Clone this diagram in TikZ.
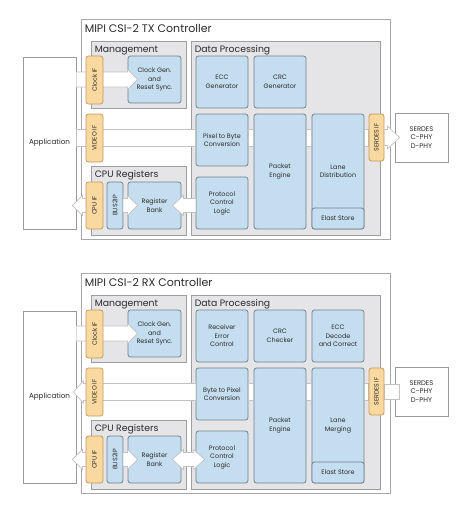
\documentclass[tikz,border=0pt]{standalone}
\usepackage{fontspec}
\setmainfont{Poppins}
\usetikzlibrary{positioning,calc}

\pgfdeclarelayer{background}
\pgfdeclarelayer{foreground}
\pgfsetlayers{background,main,foreground}

\definecolor{ctrlline}{HTML}{A8A8A8}
\definecolor{grpfill}{HTML}{E5E5E7}
\definecolor{grpline}{HTML}{9E9E9E}
\definecolor{blkfill}{HTML}{C4DDEF}
\definecolor{blkline}{HTML}{708190}
\definecolor{iffill}{HTML}{F9D99F}
\definecolor{ifline}{HTML}{C49A5A}
\definecolor{extline}{HTML}{9A9A9A}
\definecolor{bandline}{HTML}{C2C2C2}
\definecolor{txt}{HTML}{2A2A2A}

\tikzset{
  ctrl/.style={draw=ctrlline, fill=white, line width=0.8pt},
  ctrltitle/.style={anchor=north west, inner sep=0pt, text=txt, font=\fontsize{11}{13}\selectfont},
  grp/.style={draw=grpline, fill=grpfill, line width=0.8pt},
  grptitle/.style={anchor=north west, inner sep=0pt, text=txt, font=\fontsize{9.3}{11}\selectfont},
  blk/.style={draw=blkline, fill=blkfill, line width=0.8pt, rounded corners=2.5pt,
    align=center, text=txt, font=\fontsize{6.4}{8.5}\selectfont, inner sep=1pt},
  ifc/.style={draw=ifline, fill=iffill, line width=0.8pt, rounded corners=2.5pt,
    text=txt, font=\fontsize{6.2}{7}\selectfont, inner sep=0pt},
  ext/.style={draw=extline, fill=white, line width=0.8pt, align=center, text=txt,
    font=\fontsize{7.2}{9}\selectfont},
  band/.style={draw=bandline, fill=white, line width=0.7pt},
}

\begin{document}
\begin{tikzpicture}[x=1pt,y=-1pt,on grid,node distance=58pt]
\useasboundingbox (0,0) rectangle (474,506);

% ===== TX controller =====
\begin{pgfonlayer}{background}
  \node[ctrl, minimum width=309pt, minimum height=220pt] (tctrl) at (235.5,129) {};
  \node[ctrltitle] (tctrlt) at ([shift={(4,6)}]tctrl.north west) {MIPI CSI-2 TX Controller};
  \node[grp, minimum width=95pt, minimum height=67pt] (tmgmt) at (138.5,74.5) {};
  \node[grptitle] (tmgmtt) at ([shift={(4,5)}]tmgmt.north west) {Management};
  \node[grp, minimum width=95pt, minimum height=69pt] (tcpu) at (138.5,200.5) {};
  \node[grptitle] (tcput) at ([shift={(4,5)}]tcpu.north west) {CPU Registers};
  \node[grp, minimum width=189pt, minimum height=194pt] (tdp) at (285.5,138) {};
  \node[grptitle] (tdpt) at ([shift={(4,5)}]tdp.north west) {Data Processing};
\end{pgfonlayer}

\node[ext, minimum width=53pt, minimum height=172pt] (tapp) at (49.5,143) {Application};
\node[blk, minimum width=53pt, minimum height=47pt] (tcg) at (154.5,79.5) {Clock Gen.\\and\\Reset Sync.};
\node[blk, minimum width=53pt, minimum height=47pt, below=126pt of tcg] (trb) {Register\\Bank};
\node[blk, minimum width=16pt, minimum height=47pt, left=39.5pt of trb] (tbus) {\rotatebox{90}{BUS2IP}};

\node[blk, minimum width=52pt, minimum height=52pt] (tecc) at (222,82) {ECC\\Generator};
\node[blk, minimum width=52pt, minimum height=52pt, right=of tecc] (tcrc) {CRC\\Generator};
\node[blk, minimum width=52pt, minimum height=52pt, below=of tecc] (tptb) {Pixel to Byte\\Conversion};
\node[blk, minimum width=52pt, minimum height=52pt, below=63pt of tptb] (tpcl) {Protocol\\Control\\Logic};
\node[blk, minimum width=52pt, minimum height=115pt, below right=31.5pt and 58pt of tptb] (tpe) {Packet\\Engine};
\node[blk, minimum width=52pt, minimum height=115pt, right=of tpe] (tld) {Lane\\Distribution};
\node[blk, minimum width=52pt, minimum height=21pt, below=47pt of tld] (tes) {Elast Store};
\node[ext, minimum width=53pt, minimum height=49pt, font=\fontsize{6.8}{8.5}\selectfont] (tser) at (421.5,137.5) {SERDES\\C-PHY\\D-PHY};

\begin{pgfonlayer}{foreground}
  \node[ifc, minimum width=17pt, minimum height=48pt] (tcif) at (94.5,80) {\rotatebox{90}{Clock IF}};
  \node[ifc, minimum width=17pt, minimum height=48pt, below=of tcif] (tvif) {\rotatebox{90}{VIDEO IF}};
  \node[ifc, minimum width=17pt, minimum height=47pt, below=67.5pt of tvif] (tuif) {\rotatebox{90}{CPU IF}};
  \node[ifc, minimum width=15pt, minimum height=47pt] (tsif) at (376.5,137.5) {\rotatebox{90}{SERDES IF}};
\end{pgfonlayer}

% wide data paths
\draw[band] let \p1=(tapp.east), \p2=(tcg.west) in
  (\x1,\y2+7.5pt) -- (\x2,\y2+7.5pt) -- (\x2,\y2+10pt) -- (\x2+10pt,\y2)
  -- (\x2,\y2-10pt) -- (\x2,\y2-7.5pt) -- (\x1,\y2-7.5pt);
\draw[band] let \p1=(tapp.east), \p2=(tptb.west), \p3=(tvif.center) in
  (\x1,\y3+8.5pt) rectangle (\x2,\y3-8.5pt);
\draw[band] let \p1=(tptb.east), \p2=(tpe.west), \p3=(tvif.center) in
  (\x1,\y3+8.5pt) rectangle (\x2,\y3-8.5pt);
\draw[band] let \p1=(tpe.east), \p2=(tld.west), \p3=(tvif.center) in
  (\x1,\y3+8.5pt) rectangle (\x2,\y3-8.5pt);
\draw[band] let \p1=(tld.east), \p2=(tsif.west), \p3=(tvif.center) in
  (\x1,\y3+8.5pt) rectangle (\x2,\y3-8.5pt);
\draw[band] let \p1=(tsif.east), \p2=(tser.west) in
  (\x1,\y2+8pt) -- (\x1+3pt,\y2+8pt) -- (\x1+3pt,\y2+11.5pt) -- (\x2+5pt,\y2)
  -- (\x1+3pt,\y2-11.5pt) -- (\x1+3pt,\y2-8pt) -- (\x1,\y2-8pt);
\draw[band] let \p1=(tuif.west), \p2=(tapp.east), \p3=(tuif.center) in
  (\x1,\y3+7pt) -- (\x2+6pt,\y3+7pt) -- (\x2+6pt,\y3+10pt) -- (\x2-4pt,\y3)
  -- (\x2+6pt,\y3-10pt) -- (\x2+6pt,\y3-7pt) -- (\x1,\y3-7pt);
\draw[band] let \p1=(tbus.east), \p2=(trb.west) in
  (\x1,\y2+7pt) -- (\x2,\y2+7pt) -- (\x2,\y2+10pt) -- (\x2+10pt,\y2)
  -- (\x2,\y2-10pt) -- (\x2,\y2-7pt) -- (\x1,\y2-7pt);
\draw[band] let \p1=(tpcl.west), \p2=(trb.east) in
  (\x1,\y2+7pt) -- (\x2+2pt,\y2+7pt) -- (\x2+2pt,\y2+10pt) -- (\x2-9pt,\y2)
  -- (\x2+2pt,\y2-10pt) -- (\x2+2pt,\y2-7pt) -- (\x1,\y2-7pt);

% ===== RX controller =====
\begin{pgfonlayer}{background}
  \node[ctrl, minimum width=309pt, minimum height=220pt] (rctrl) at (235.5,383) {};
  \node[ctrltitle] (rctrlt) at ([shift={(4,6)}]rctrl.north west) {MIPI CSI-2 RX Controller};
  \node[grp, minimum width=95pt, minimum height=67pt] (rmgmt) at (138.5,328.5) {};
  \node[grptitle] (rmgmtt) at ([shift={(4,5)}]rmgmt.north west) {Management};
  \node[grp, minimum width=95pt, minimum height=69pt] (rcpu) at (138.5,454.5) {};
  \node[grptitle] (rcput) at ([shift={(4,5)}]rcpu.north west) {CPU Registers};
  \node[grp, minimum width=189pt, minimum height=194pt] (rdp) at (285.5,392) {};
  \node[grptitle] (rdpt) at ([shift={(4,5)}]rdp.north west) {Data Processing};
\end{pgfonlayer}

\node[ext, minimum width=53pt, minimum height=172pt] (rapp) at (49.5,397) {Application};
\node[blk, minimum width=53pt, minimum height=47pt] (rcg) at (154.5,333.5) {Clock Gen.\\and\\Reset Sync.};
\node[blk, minimum width=53pt, minimum height=47pt, below=126pt of rcg] (rrb) {Register\\Bank};
\node[blk, minimum width=16pt, minimum height=47pt, left=39.5pt of rrb] (rbus) {\rotatebox{90}{BUS2IP}};

\node[blk, minimum width=52pt, minimum height=52pt] (rrec) at (222,336) {Receiver\\Error\\Control};
\node[blk, minimum width=52pt, minimum height=52pt, right=of rrec] (rcrc) {CRC\\Checker};
\node[blk, minimum width=52pt, minimum height=52pt, right=of rcrc] (recc) {ECC\\Decode\\and Correct};
\node[blk, minimum width=52pt, minimum height=52pt, below=of rrec] (rbtp) {Byte to Pixel\\Conversion};
\node[blk, minimum width=52pt, minimum height=52pt, below=63pt of rbtp] (rpcl) {Protocol\\Control\\Logic};
\node[blk, minimum width=52pt, minimum height=115pt, below right=31.5pt and 58pt of rbtp] (rpe) {Packet\\Engine};
\node[blk, minimum width=52pt, minimum height=115pt, right=of rpe] (rlm) {Lane\\Merging};
\node[blk, minimum width=52pt, minimum height=21pt, below=47pt of rlm] (res) {Elast Store};
\node[ext, minimum width=53pt, minimum height=49pt, font=\fontsize{6.8}{8.5}\selectfont] (rser) at (421.5,391.5) {SERDES\\C-PHY\\D-PHY};

\begin{pgfonlayer}{foreground}
  \node[ifc, minimum width=17pt, minimum height=48pt] (rcif) at (94.5,334) {\rotatebox{90}{Clock IF}};
  \node[ifc, minimum width=17pt, minimum height=48pt, below=of rcif] (rvif) {\rotatebox{90}{VIDEO IF}};
  \node[ifc, minimum width=17pt, minimum height=47pt, below=67.5pt of rvif] (ruif) {\rotatebox{90}{CPU IF}};
  \node[ifc, minimum width=15pt, minimum height=47pt] (rsif) at (376.5,391.5) {\rotatebox{90}{SERDES IF}};
\end{pgfonlayer}

% wide data paths
\draw[band] let \p1=(rapp.east), \p2=(rcg.west) in
  (\x1,\y2+7.5pt) -- (\x2,\y2+7.5pt) -- (\x2,\y2+10pt) -- (\x2+10pt,\y2)
  -- (\x2,\y2-10pt) -- (\x2,\y2-7.5pt) -- (\x1,\y2-7.5pt);
\draw[band] let \p1=(rbtp.west), \p2=(rapp.east), \p3=(rvif.center) in
  (\x1,\y3+8.5pt) -- (\x2+7pt,\y3+8.5pt) -- (\x2+7pt,\y3+11pt) -- (\x2-3pt,\y3)
  -- (\x2+7pt,\y3-11pt) -- (\x2+7pt,\y3-8.5pt) -- (\x1,\y3-8.5pt);
\draw[band] let \p1=(rbtp.east), \p2=(rpe.west), \p3=(rvif.center) in
  (\x1,\y3+8.5pt) rectangle (\x2,\y3-8.5pt);
\draw[band] let \p1=(rpe.east), \p2=(rlm.west), \p3=(rvif.center) in
  (\x1,\y3+8.5pt) rectangle (\x2,\y3-8.5pt);
\draw[band] let \p1=(rlm.east), \p2=(rsif.west), \p3=(rvif.center) in
  (\x1,\y3+8.5pt) rectangle (\x2,\y3-8.5pt);
\draw[band] let \p1=(rsif.east), \p2=(rser.west) in
  (\x1,\y2+7.5pt) rectangle (\x2+5pt,\y2-7.5pt);
\draw[band] let \p1=(ruif.west), \p2=(rapp.east), \p3=(ruif.center) in
  (\x1,\y3+7pt) -- (\x2+6pt,\y3+7pt) -- (\x2+6pt,\y3+10pt) -- (\x2-4pt,\y3)
  -- (\x2+6pt,\y3-10pt) -- (\x2+6pt,\y3-7pt) -- (\x1,\y3-7pt);
\draw[band] let \p1=(rbus.east), \p2=(rrb.west) in
  (\x1,\y2+7pt) -- (\x2,\y2+7pt) -- (\x2,\y2+10pt) -- (\x2+10pt,\y2)
  -- (\x2,\y2-10pt) -- (\x2,\y2-7pt) -- (\x1,\y2-7pt);
\draw[band] let \p1=(rrb.east), \p2=(rpcl.west) in
  (\x1-9pt,\y1) -- (\x1+2pt,\y1+10pt) -- (\x1+2pt,\y1+7pt) -- (\x2-2pt,\y1+7pt)
  -- (\x2-2pt,\y1+10pt) -- (\x2+9pt,\y1) -- (\x2-2pt,\y1-10pt) -- (\x2-2pt,\y1-7pt)
  -- (\x1+2pt,\y1-7pt) -- (\x1+2pt,\y1-10pt) -- cycle;
\end{tikzpicture}
\end{document}
